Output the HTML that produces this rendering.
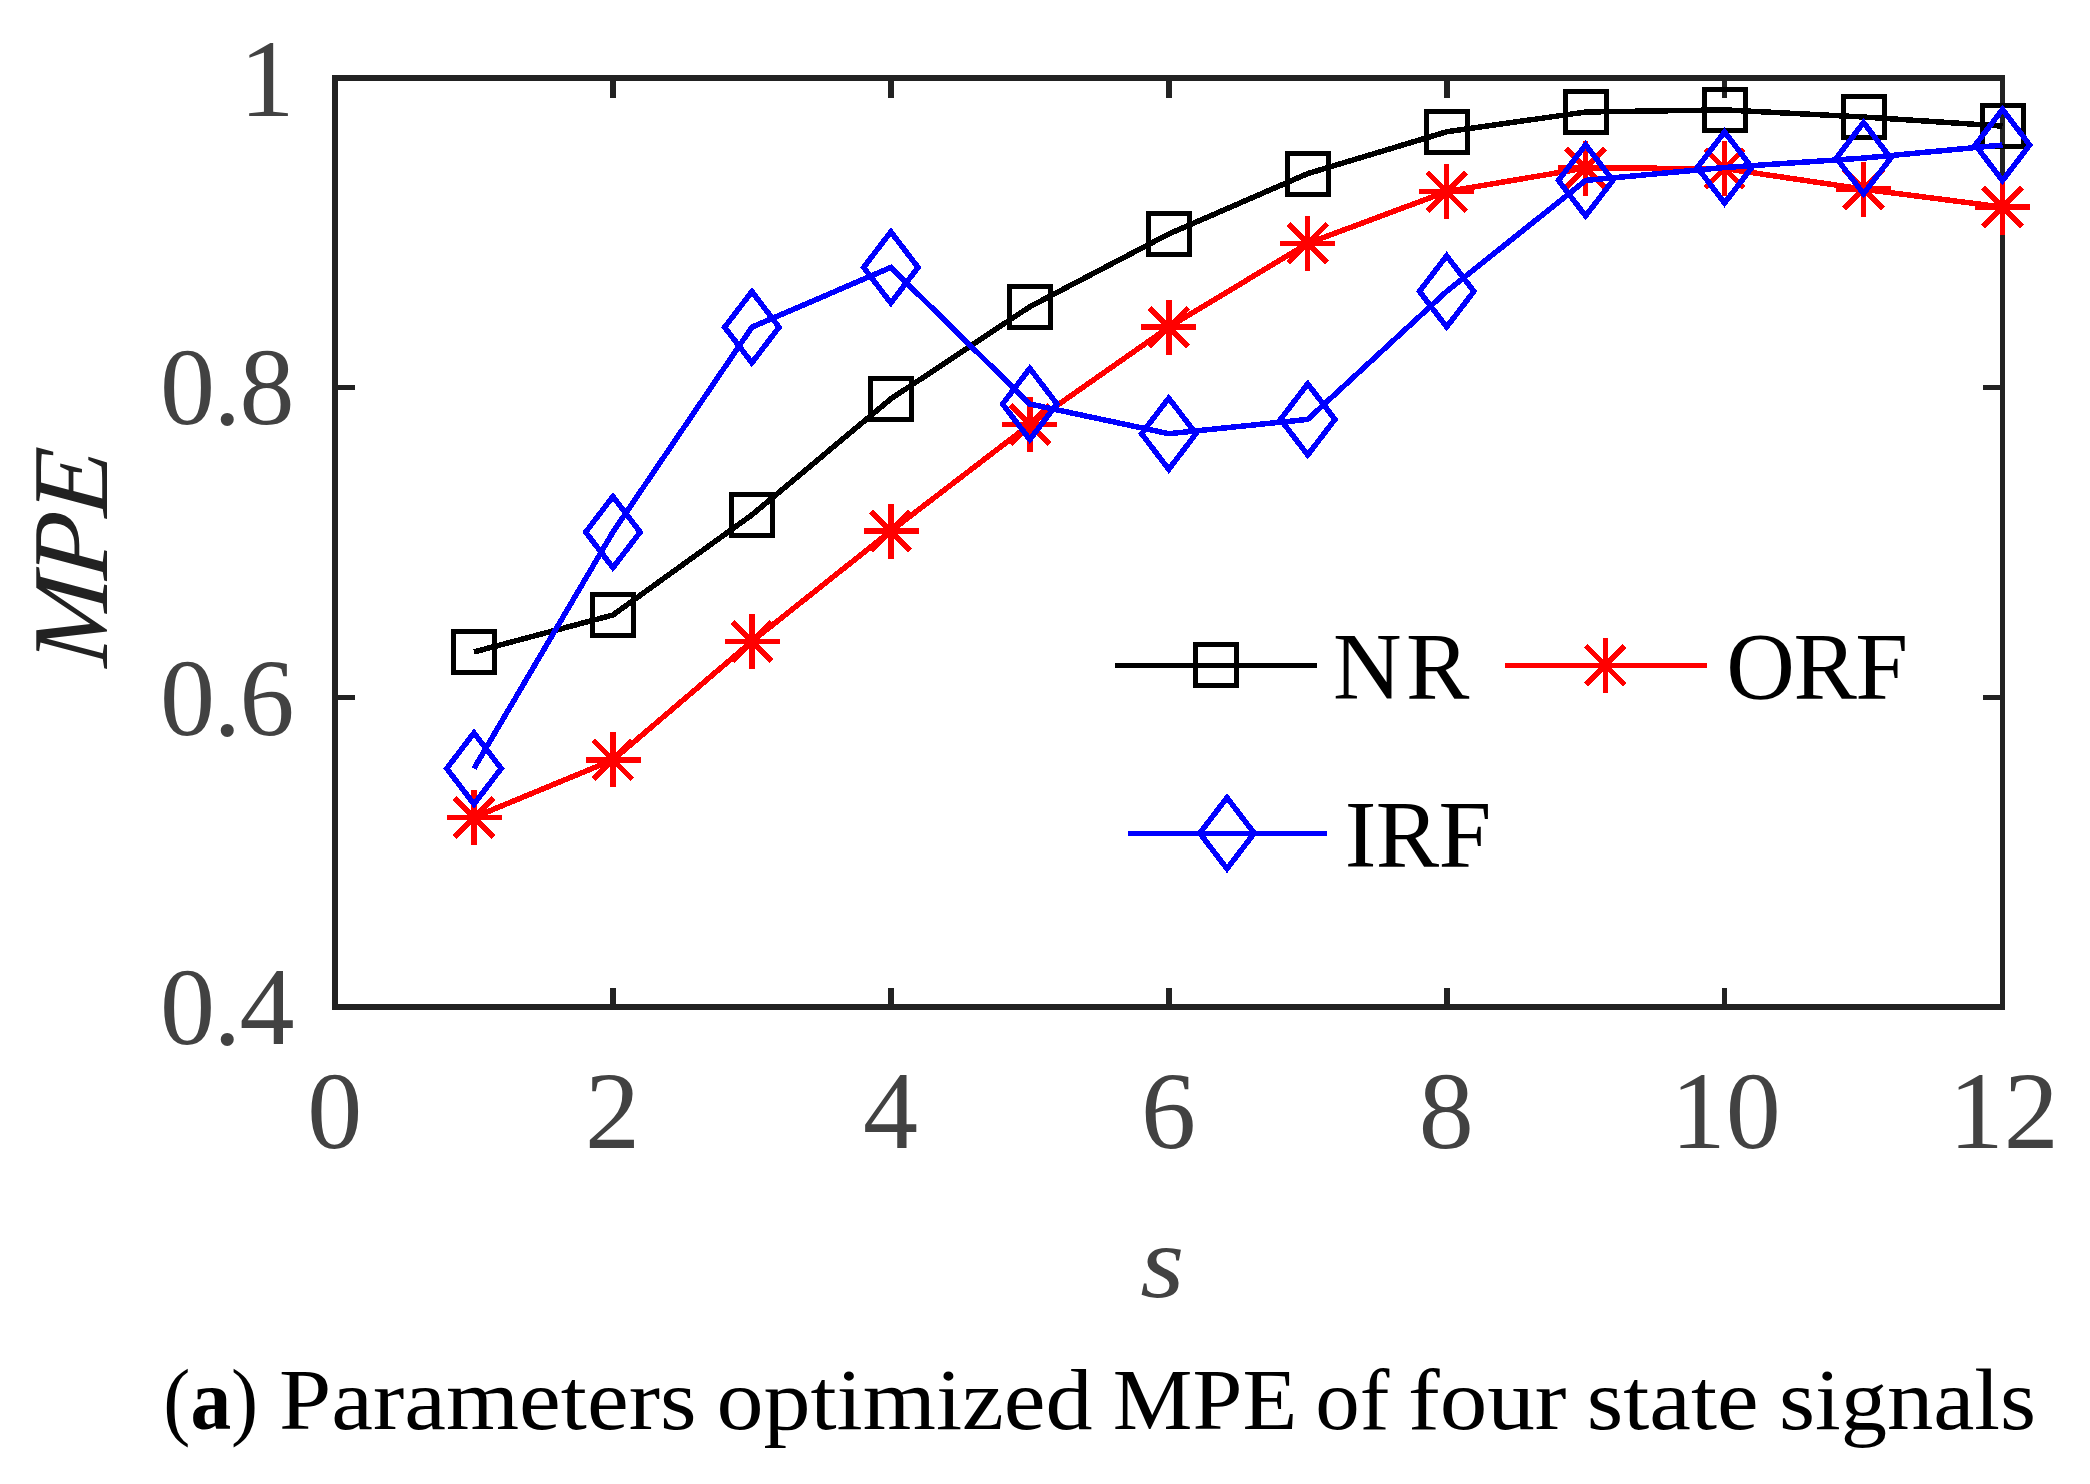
<!DOCTYPE html>
<html lang="en">
<head>
<meta charset="utf-8">
<title>Parameters optimized MPE of four state signals</title>
<style>
html,body{margin:0;padding:0;background:#fff;}
body{width:2090px;height:1484px;overflow:hidden;}
svg{display:block;}
text{font-family:"Liberation Serif",serif;}
.tick{font-size:110px;fill:#424242;}
.leg{font-size:95px;fill:#000;}
.lab{font-size:108px;font-style:italic;}
.cap{font-size:87px;fill:#000;}
.ax{fill:#222222;}
.ln{fill:none;stroke-width:5.5;stroke-linejoin:miter;}
.mk{fill:none;stroke-linejoin:miter;stroke-miterlimit:10;}
</style>
</head>
<body>
<svg width="2090" height="1484" viewBox="0 0 2090 1484">
<rect x="0" y="0" width="2090" height="1484" fill="#ffffff"/>
<g class="ax" shape-rendering="crispEdges">
<rect x="332" y="75" width="6" height="935"/>
<rect x="332" y="75" width="1673" height="6"/>
<rect x="332" y="1004" width="1673" height="6"/>
<rect x="2000" y="75" width="5" height="935"/>
<rect x="610" y="81" width="6" height="17"/>
<rect x="610" y="988" width="6" height="16"/>
<rect x="888" y="81" width="6" height="17"/>
<rect x="888" y="988" width="6" height="16"/>
<rect x="1166" y="81" width="6" height="17"/>
<rect x="1166" y="988" width="6" height="16"/>
<rect x="1444" y="81" width="6" height="17"/>
<rect x="1444" y="988" width="6" height="16"/>
<rect x="1722" y="81" width="5" height="17"/>
<rect x="1722" y="988" width="5" height="16"/>
<rect x="338" y="385" width="17" height="5"/>
<rect x="1983" y="385" width="17" height="5"/>
<rect x="338" y="695" width="17" height="5"/>
<rect x="1983" y="695" width="17" height="5"/>
</g>
<g class="tick" text-anchor="middle">
<text x="334.7" y="1147.6">0</text>
<text x="612.62" y="1147.6">2</text>
<text x="890.53" y="1147.6">4</text>
<text x="1168.45" y="1147.6">6</text>
<text x="1446.37" y="1147.6">8</text>
<text x="1725.78" y="1147.6">10</text>
<text x="2003.7" y="1147.6">12</text>
</g>
<g class="tick" text-anchor="end">
<text x="294.5" y="115.6">1</text>
<text x="293" y="423.9" letter-spacing="-1.5">0.8</text>
<text x="293" y="734.7" letter-spacing="-1.5">0.6</text>
<text x="293" y="1043.6" letter-spacing="-1.5">0.4</text>
</g>
<text class="lab" fill="#424242" text-anchor="middle" style="font-size:103px" transform="translate(1162.3 1296.8) scale(1.1 1)">s</text>
<text class="lab" fill="#222222" text-anchor="middle" letter-spacing="-3" transform="translate(107 561.3) rotate(-90) skewX(-5)">MPE</text>
<g stroke="#000000" shape-rendering="crispEdges">
<g class="ln"><polyline points="473.96,651.95 612.92,615 751.88,514.9 890.83,398.9 1029.79,306.7 1168.75,234 1307.71,173.6 1446.67,131.8 1585.62,112 1724.58,109.9 1863.54,117 2002.5,126.1"/></g>
<g class="mk" stroke-width="5"><rect x="453.46" y="631.45" width="41" height="41"/><rect x="592.42" y="594.5" width="41" height="41"/><rect x="731.38" y="494.4" width="41" height="41"/><rect x="870.33" y="378.4" width="41" height="41"/><rect x="1009.29" y="286.2" width="41" height="41"/><rect x="1148.25" y="213.5" width="41" height="41"/><rect x="1287.21" y="153.1" width="41" height="41"/><rect x="1426.17" y="111.3" width="41" height="41"/><rect x="1565.12" y="91.5" width="41" height="41"/><rect x="1704.08" y="89.4" width="41" height="41"/><rect x="1843.04" y="96.5" width="41" height="41"/><rect x="1982" y="105.6" width="41" height="41"/></g>
</g>
<g stroke="#ff0000" shape-rendering="crispEdges">
<g class="ln"><polyline points="473.96,817.4 612.92,759.9 751.88,641.4 890.83,531 1029.79,424.5 1168.75,327.2 1307.71,243.4 1446.67,191.6 1585.62,168 1724.58,168.5 1863.54,189.2 2002.5,207.1"/></g>
<g class="mk" stroke-width="5.5"><path d="M473.96 789.9V844.9M446.66 817.4H501.66M454.51 797.95L493.4 836.85M454.51 836.85L493.4 797.95"/><path d="M612.92 732.4V787.4M585.62 759.9H640.62M593.47 740.45L632.36 779.35M593.47 779.35L632.36 740.45"/><path d="M751.88 613.9V668.9M724.58 641.4H779.58M732.43 621.95L771.32 660.85M732.43 660.85L771.32 621.95"/><path d="M890.83 503.5V558.5M863.53 531H918.53M871.39 511.55L910.28 550.45M871.39 550.45L910.28 511.55"/><path d="M1029.79 397V452M1002.49 424.5H1057.49M1010.35 405.05L1049.24 443.95M1010.35 443.95L1049.24 405.05"/><path d="M1168.75 299.7V354.7M1141.45 327.2H1196.45M1149.3 307.75L1188.2 346.65M1149.3 346.65L1188.2 307.75"/><path d="M1307.71 215.9V270.9M1280.41 243.4H1335.41M1288.26 223.95L1327.15 262.85M1288.26 262.85L1327.15 223.95"/><path d="M1446.67 164.1V219.1M1419.37 191.6H1474.37M1427.22 172.15L1466.11 211.05M1427.22 211.05L1466.11 172.15"/><path d="M1585.62 140.5V195.5M1558.33 168H1613.33M1566.18 148.55L1605.07 187.45M1566.18 187.45L1605.07 148.55"/><path d="M1724.58 141V196M1697.28 168.5H1752.28M1705.14 149.05L1744.03 187.95M1705.14 187.95L1744.03 149.05"/><path d="M1863.54 161.7V216.7M1836.24 189.2H1891.24M1844.1 169.75L1882.99 208.65M1844.1 208.65L1882.99 169.75"/><path d="M2002.5 179.6V234.6M1975.2 207.1H2030.2M1983.05 187.65L2021.95 226.55M1983.05 226.55L2021.95 187.65"/></g>
</g>
<g stroke="#0000ff" shape-rendering="crispEdges">
<g class="ln"><polyline points="473.96,768.5 612.92,532.1 751.88,327.2 890.83,267.4 1029.79,404 1168.75,433.7 1307.71,419.4 1446.67,291.4 1585.62,180.4 1724.58,167.5 1863.54,158.1 2002.5,145"/></g>
<g class="mk" stroke-width="5.5"><path d="M473.96 732.9L501.16 768.5L473.96 804.1L446.76 768.5Z"/><path d="M612.92 496.5L640.12 532.1L612.92 567.7L585.72 532.1Z"/><path d="M751.88 291.6L779.08 327.2L751.88 362.8L724.67 327.2Z"/><path d="M890.83 231.8L918.03 267.4L890.83 303L863.63 267.4Z"/><path d="M1029.79 368.4L1056.99 404L1029.79 439.6L1002.59 404Z"/><path d="M1168.75 398.1L1195.95 433.7L1168.75 469.3L1141.55 433.7Z"/><path d="M1307.71 383.8L1334.91 419.4L1307.71 455L1280.51 419.4Z"/><path d="M1446.67 255.8L1473.87 291.4L1446.67 327L1419.47 291.4Z"/><path d="M1585.62 144.8L1612.83 180.4L1585.62 216L1558.42 180.4Z"/><path d="M1724.58 131.9L1751.78 167.5L1724.58 203.1L1697.38 167.5Z"/><path d="M1863.54 122.5L1890.74 158.1L1863.54 193.7L1836.34 158.1Z"/><path d="M2002.5 109.4L2029.7 145L2002.5 180.6L1975.3 145Z"/></g>
</g>
<g stroke="#000000" shape-rendering="crispEdges"><path class="ln" d="M1115 665.3H1317"/><g class="mk" stroke-width="5"><rect x="1195.5" y="644.7" width="41" height="41"/></g></g>
<g stroke="#ff0000" shape-rendering="crispEdges"><path class="ln" d="M1505 665.3H1707"/><g class="mk" stroke-width="5.5"><path d="M1605.3 637.8V692.8M1578 665.3H1633M1585.85 645.85L1624.75 684.75M1585.85 684.75L1624.75 645.85"/></g></g>
<g stroke="#0000ff" shape-rendering="crispEdges"><path class="ln" d="M1128 833.3H1327"/><g class="mk" stroke-width="5.5"><path d="M1227 797.6L1254.2 833.2L1227 868.8L1199.8 833.2Z"/></g></g>
<g class="leg">
<text x="1333" y="698.8" letter-spacing="4.4">NR</text>
<text x="1726.3" y="698.8" letter-spacing="-1.5">ORF</text>
<text x="1344.7" y="866.8" letter-spacing="-0.6">IRF</text>
</g>
<text class="cap" y="1429"><tspan x="163.3" textLength="94.92" lengthAdjust="spacingAndGlyphs">(<tspan font-weight="bold">a</tspan>)</tspan> <tspan x="278.96" textLength="417.58" lengthAdjust="spacingAndGlyphs">Parameters</tspan> <tspan x="716.46" textLength="376.06" lengthAdjust="spacingAndGlyphs">optimized</tspan> <tspan x="1112.89" textLength="184.29" lengthAdjust="spacingAndGlyphs">MPE</tspan> <tspan x="1315.38" textLength="74.13" lengthAdjust="spacingAndGlyphs">of</tspan> <tspan x="1407.94" textLength="158.58" lengthAdjust="spacingAndGlyphs">four</tspan> <tspan x="1586.84" textLength="171.79" lengthAdjust="spacingAndGlyphs">state</tspan> <tspan x="1778.9" textLength="257.18" lengthAdjust="spacingAndGlyphs">signals</tspan></text>
</svg>
</body>
</html>
